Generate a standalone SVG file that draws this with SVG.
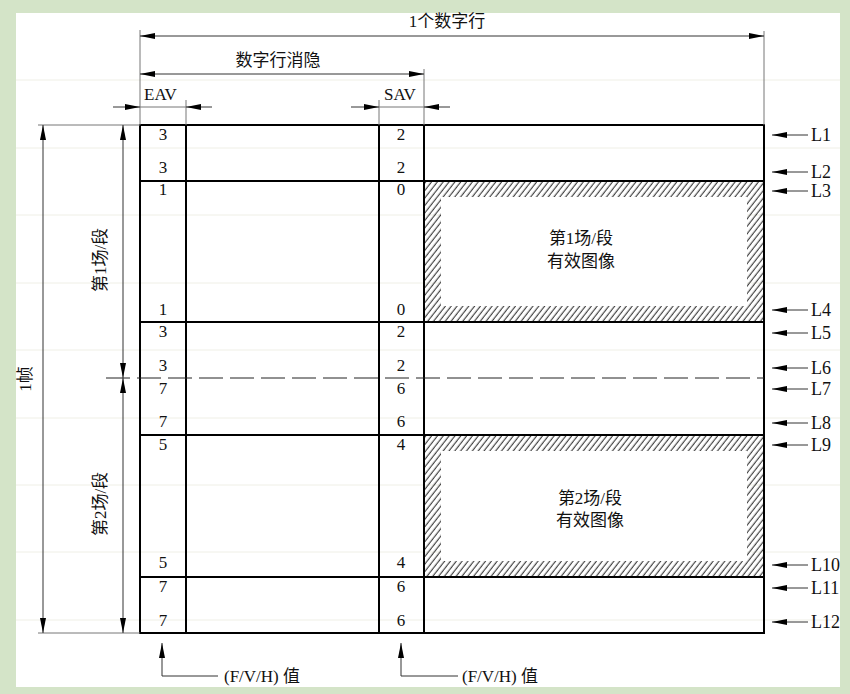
<svg xmlns="http://www.w3.org/2000/svg" width="850" height="694" viewBox="0 0 850 694">
<style>
text{font-family:"Liberation Serif","Noto Sans CJK SC",serif;fill:#111;font-size:17px}
.num{text-anchor:middle}
.lab{font-size:18px}
.dim{stroke:#333;stroke-width:1;fill:none}
.ext{stroke:#777;stroke-width:1;fill:none}
.box{stroke:#000;stroke-width:2;fill:none}
.grid{stroke:#efefe6;stroke-width:1}
</style>
<defs>
<marker id="ah" viewBox="0 0 15 6" refX="15" refY="3" markerWidth="15" markerHeight="6" markerUnits="userSpaceOnUse" orient="auto-start-reverse">
<path d="M0,0 L15,3 L0,6 z" fill="#000"/>
</marker>
<pattern id="hatch" width="4.6" height="10" patternUnits="userSpaceOnUse" patternTransform="rotate(38)">
<line x1="1.2" y1="0" x2="1.2" y2="10" stroke="#222" stroke-width="1"/>
</pattern>
</defs>
<rect x="0" y="0" width="850" height="694" fill="#d4e4c8"/>
<rect x="16" y="13" width="824" height="674" fill="#fff"/>
<g id="bg-grid">
<line class="grid" x1="16" y1="80" x2="840" y2="80"/>
<line class="grid" x1="16" y1="148" x2="840" y2="148"/>
<line class="grid" x1="16" y1="215" x2="840" y2="215"/>
<line class="grid" x1="16" y1="283" x2="840" y2="283"/>
<line class="grid" x1="16" y1="350" x2="840" y2="350"/>
<line class="grid" x1="16" y1="418" x2="840" y2="418"/>
<line class="grid" x1="16" y1="485" x2="840" y2="485"/>
<line class="grid" x1="16" y1="552" x2="840" y2="552"/>
<line class="grid" x1="16" y1="620" x2="840" y2="620"/>
</g>

<g id="active1">
<rect x="424" y="181" width="340" height="141" fill="url(#hatch)"/>
<rect x="441" y="197" width="306" height="109" fill="#fff"/>
<text x="581" y="244" class="num">第1场/段</text>
<text x="581" y="267" class="num">有效图像</text>
</g>
<g id="active2">
<rect x="424" y="435" width="340" height="142" fill="url(#hatch)"/>
<rect x="441" y="451" width="306" height="110" fill="#fff"/>
<text x="590" y="504" class="num">第2场/段</text>
<text x="590" y="526" class="num">有效图像</text>
</g>

<g id="table">
<rect class="box" x="140" y="125" width="624" height="508"/>
<line class="box" x1="186" y1="125" x2="186" y2="633"/>
<line class="box" x1="379" y1="125" x2="379" y2="633"/>
<line class="box" x1="424" y1="125" x2="424" y2="633"/>
<line class="box" x1="140" y1="181" x2="764" y2="181"/>
<line class="box" x1="140" y1="322" x2="764" y2="322"/>
<line class="box" x1="140" y1="435" x2="764" y2="435"/>
<line class="box" x1="140" y1="577" x2="764" y2="577"/>
<line x1="106" y1="378" x2="764" y2="378" stroke="#222" stroke-width="1" stroke-dasharray="24 7"/>
</g>

<g id="eav-values">
<text class="num" x="163" y="140">3</text>
<text class="num" x="163" y="173">3</text>
<text class="num" x="163" y="195">1</text>
<text class="num" x="163" y="315">1</text>
<text class="num" x="163" y="337">3</text>
<text class="num" x="163" y="371">3</text>
<text class="num" x="163" y="394">7</text>
<text class="num" x="163" y="427">7</text>
<text class="num" x="163" y="450">5</text>
<text class="num" x="163" y="568">5</text>
<text class="num" x="163" y="592">7</text>
<text class="num" x="163" y="626">7</text>
</g>
<g id="sav-values">
<text class="num" x="401" y="140">2</text>
<text class="num" x="401" y="173">2</text>
<text class="num" x="401" y="195">0</text>
<text class="num" x="401" y="315">0</text>
<text class="num" x="401" y="337">2</text>
<text class="num" x="401" y="371">2</text>
<text class="num" x="401" y="394">6</text>
<text class="num" x="401" y="427">6</text>
<text class="num" x="401" y="450">4</text>
<text class="num" x="401" y="568">4</text>
<text class="num" x="401" y="592">6</text>
<text class="num" x="401" y="626">6</text>
</g>

<g id="connectors">
<line class="ext" x1="140" y1="30" x2="140" y2="125"/>
<line class="ext" x1="764" y1="31" x2="764" y2="125"/>
<line class="ext" x1="424" y1="69" x2="424" y2="125"/>
<line class="ext" x1="186" y1="100" x2="186" y2="125"/>
<line class="ext" x1="379" y1="100" x2="379" y2="125"/>
<line class="ext" x1="38" y1="125" x2="140" y2="125"/>
<line class="ext" x1="38" y1="633" x2="140" y2="633"/>
<line class="dim" x1="140" y1="36" x2="764" y2="36" marker-start="url(#ah)" marker-end="url(#ah)"/>
<line class="dim" x1="140" y1="74" x2="424" y2="74" marker-start="url(#ah)" marker-end="url(#ah)"/>
<line class="ext" x1="140" y1="107" x2="186" y2="107"/>
<line class="dim" x1="113" y1="107" x2="140" y2="107" marker-end="url(#ah)"/>
<line class="dim" x1="212" y1="107" x2="186" y2="107" marker-end="url(#ah)"/>
<line class="ext" x1="379" y1="107" x2="424" y2="107"/>
<line class="dim" x1="351" y1="107" x2="379" y2="107" marker-end="url(#ah)"/>
<line class="dim" x1="450" y1="107" x2="424" y2="107" marker-end="url(#ah)"/>
<line class="dim" x1="43" y1="125" x2="43" y2="633" marker-start="url(#ah)" marker-end="url(#ah)"/>
<line class="dim" x1="123" y1="125" x2="123" y2="378" marker-start="url(#ah)" marker-end="url(#ah)"/>
<line class="dim" x1="123" y1="378" x2="123" y2="633" marker-start="url(#ah)" marker-end="url(#ah)"/>
<polyline class="dim" points="218,676 162,676 162,643" marker-end="url(#ah)"/>
<polyline class="dim" points="458,676 401,676 401,643" marker-end="url(#ah)"/>
<line class="dim" x1="808" y1="135" x2="772" y2="135" marker-end="url(#ah)"/>
<line class="dim" x1="808" y1="172" x2="772" y2="172" marker-end="url(#ah)"/>
<line class="dim" x1="808" y1="191" x2="772" y2="191" marker-end="url(#ah)"/>
<line class="dim" x1="808" y1="310" x2="772" y2="310" marker-end="url(#ah)"/>
<line class="dim" x1="808" y1="333" x2="772" y2="333" marker-end="url(#ah)"/>
<line class="dim" x1="808" y1="368" x2="772" y2="368" marker-end="url(#ah)"/>
<line class="dim" x1="808" y1="389" x2="772" y2="389" marker-end="url(#ah)"/>
<line class="dim" x1="808" y1="423" x2="772" y2="423" marker-end="url(#ah)"/>
<line class="dim" x1="808" y1="445" x2="772" y2="445" marker-end="url(#ah)"/>
<line class="dim" x1="808" y1="565" x2="772" y2="565" marker-end="url(#ah)"/>
<line class="dim" x1="808" y1="588" x2="772" y2="588" marker-end="url(#ah)"/>
<line class="dim" x1="808" y1="622" x2="772" y2="622" marker-end="url(#ah)"/>
</g>

<g id="labels">
<text x="447" y="27" class="num">1个数字行</text>
<text x="278" y="66" class="num">数字行消隐</text>
<text x="144" y="100">EAV</text>
<text x="384" y="100">SAV</text>
<text transform="translate(31,379) rotate(-90)" class="num">1帧</text>
<text transform="translate(106,260) rotate(-90)" class="num">第1场/段</text>
<text transform="translate(106,504) rotate(-90)" class="num">第2场/段</text>
<text x="224" y="682">(F/V/H) 值</text>
<text x="462" y="682">(F/V/H) 值</text>
</g>
<g id="line-labels">
<text class="lab" x="811" y="141">L1</text>
<text class="lab" x="811" y="178">L2</text>
<text class="lab" x="811" y="197">L3</text>
<text class="lab" x="811" y="316">L4</text>
<text class="lab" x="811" y="339">L5</text>
<text class="lab" x="811" y="374">L6</text>
<text class="lab" x="811" y="395">L7</text>
<text class="lab" x="811" y="429">L8</text>
<text class="lab" x="811" y="451">L9</text>
<text class="lab" x="811" y="571">L10</text>
<text class="lab" x="811" y="594">L11</text>
<text class="lab" x="811" y="628">L12</text>
</g>
</svg>
